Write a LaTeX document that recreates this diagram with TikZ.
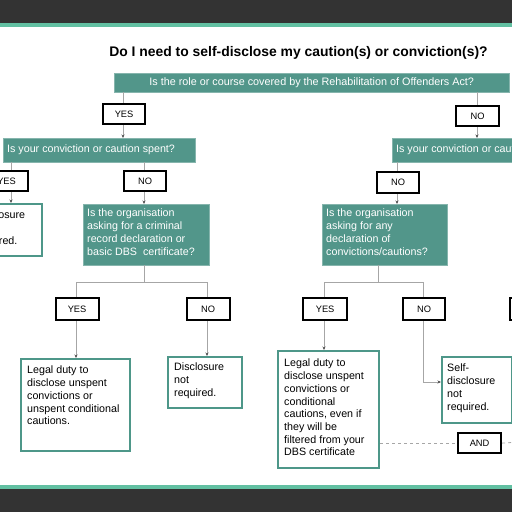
\documentclass[tikz,border=0pt]{standalone}
\usepackage{fontspec}
\setmainfont{Liberation Sans}
\usetikzlibrary{arrows.meta}
\definecolor{tealfill}{HTML}{52968A}
\definecolor{tealline}{HTML}{4E9789}
\definecolor{darkband}{HTML}{333333}
\definecolor{stripe}{HTML}{62C0A2}
\definecolor{connc}{HTML}{A6A6A6}
\definecolor{tipc}{HTML}{505050}
\begin{document}
\begin{tikzpicture}[x=1pt,y=-1pt,
 qbox/.style={fill=tealfill, draw=tealfill!70!white, line width=0.4pt, inner sep=0pt, anchor=north west},
 rbox/.style={fill=white, draw=tealline, line width=2.2pt, inner sep=0pt, anchor=north west},
 ansbox/.style={fill=white, draw=black, line width=2.2pt, inner sep=0pt, anchor=north west, font=\fontsize{9.3}{11}\selectfont},
 qtext/.style={text=white, font=\fontsize{10.7}{12.7}\selectfont, align=left, inner sep=0pt, anchor=north west},
 rtext/.style={text=black, font=\fontsize{10.7}{12.7}\selectfont, align=left, inner sep=0pt, anchor=north west},
 conn/.style={draw=connc, line width=0.8pt},
 arr/.style={conn, -{Stealth[length=3.5pt,width=3pt,color=tipc]}},
]
\useasboundingbox (0,0) rectangle (512,512);
\clip (0,0) rectangle (512,512);
% bands
\fill[darkband] (0,0) rectangle (512,23);
\fill[stripe] (0,23) rectangle (512,27);
\fill[stripe] (0,485) rectangle (512,489);
\fill[darkband] (0,489) rectangle (512,512);
% title
\node[font=\bfseries\fontsize{13.9}{16}\selectfont, inner sep=0pt] (title) at (298.5,53) {Do I need to self-disclose my caution(s) or conviction(s)?};
% top question
\node[qbox, minimum width=395pt, minimum height=19pt, text=white, font=\fontsize{10.8}{12}\selectfont] (top) at (114,73) {Is the role or course covered by the Rehabilitation of Offenders Act?};
\node[ansbox, minimum width=42pt, minimum height=20pt] (yes1) at (102,103) {YES};
\node[ansbox, minimum width=43pt, minimum height=20pt] (no1) at (455,105) {NO};
% second level
\node[qbox, minimum width=192pt, minimum height=24pt] (leftq) at (3,138) {};
\node[qtext, anchor=west] (leftqt) at (7,150) {Is your conviction or caution spent?};
\node[qbox, minimum width=140pt, minimum height=24pt] (rightq) at (392,138) {};
\node[qtext, anchor=west] (rightqt) at (396,150) {Is your conviction or caution spent?};
\node[ansbox, minimum width=43pt, minimum height=20pt] (yes2) at (-16,170) {YES};
\node[ansbox, minimum width=42pt, minimum height=20pt] (no2) at (123,170) {NO};
\node[ansbox, minimum width=42pt, minimum height=21pt] (no3) at (376,171) {NO};
% third level
\node[rbox, minimum width=73pt, minimum height=52pt] (discl0) at (-32,203) {};
\node[rtext] (discl0t) at (-25,211) {Disclosure\\not\\required.};
\node[qbox, minimum width=126pt, minimum height=61pt] (midl) at (83,204) {};
\node[qtext] (midlt) at (87,209) {Is the organisation\\asking for a criminal\\record declaration or\\basic DBS\ \ certificate?};
\node[qbox, minimum width=125pt, minimum height=61pt] (midr) at (322,204) {};
\node[qtext] (midrt) at (326,209) {Is the organisation\\asking for any\\declaration of\\convictions/cautions?};
% fourth level answers
\node[ansbox, minimum width=43pt, minimum height=22pt] (yes4) at (54.5,297) {YES};
\node[ansbox, minimum width=43pt, minimum height=22pt] (no4) at (185.5,297) {NO};
\node[ansbox, minimum width=44pt, minimum height=22pt] (yes5) at (302,297) {YES};
\node[ansbox, minimum width=42pt, minimum height=22pt] (no5) at (402,297) {NO};
\node[ansbox, minimum width=43pt, minimum height=22pt] (ans6) at (509,297) {};
% results
\node[rbox, minimum width=109pt, minimum height=92pt] (legall) at (20,358) {};
\node[rtext] (legallt) at (27,366) {Legal duty to\\disclose unspent\\convictions or\\unspent conditional\\cautions.};
\node[rbox, minimum width=74pt, minimum height=51pt] (discl) at (167,356) {};
\node[rtext] (disclt) at (174,363) {Disclosure\\not\\required.};
\node[rbox, minimum width=101pt, minimum height=117pt] (legalr) at (277,350) {};
\node[rtext] (legalrt) at (284,359) {Legal duty to\\disclose unspent\\convictions or\\conditional\\cautions, even if\\they will be\\filtered from your\\DBS certificate};
\node[rbox, minimum width=70pt, minimum height=66pt] (selfr) at (441,356) {};
\node[rtext] (selfrt) at (447,364) {Self-\\disclosure\\not\\required.};
\node[ansbox, minimum width=43pt, minimum height=20pt] (and) at (457,432) {AND};
% connectors
\coordinate (xa) at (123,0);
\coordinate (xb) at (477,0);
\coordinate (xc) at (11,0);
\coordinate (xd) at (144,0);
\coordinate (xe) at (397,0);
\coordinate (xf) at (76,0);
\coordinate (xg) at (207,0);
\coordinate (xh) at (378,0);
\coordinate (xi) at (324,0);
\coordinate (xj) at (423,0);
\coordinate (ya) at (0,282);
\coordinate (yb) at (0,382);
\coordinate (dashend) at (520,442);
\draw[conn] (xa |- top.south) -- (xa |- yes1.north);
\draw[arr] (xa |- yes1.south) -- (xa |- leftq.north);
\draw[conn] (xb |- top.south) -- (xb |- no1.north);
\draw[arr] (xb |- no1.south) -- (xb |- rightq.north);
\draw[conn] (xc |- leftq.south) -- (xc |- yes2.north);
\draw[arr] (xc |- yes2.south) -- (xc |- discl0.north);
\draw[conn] (xd |- leftq.south) -- (xd |- no2.north);
\draw[arr] (xd |- no2.south) -- (xd |- midl.north);
\draw[conn] (xe |- rightq.south) -- (xe |- no3.north);
\draw[arr] (xe |- no3.south) -- (xe |- midr.north);
\draw[conn] (xd |- midl.south) -- (xd |- ya);
\draw[conn] (xf |- yes4.north) -- (xf |- ya) -- (xg |- ya) -- (xg |- no4.north);
\draw[arr] (xf |- yes4.south) -- (xf |- legall.north);
\draw[arr] (xg |- no4.south) -- (xg |- discl.north);
\draw[conn] (xh |- midr.south) -- (xh |- ya);
\draw[conn] (xi |- yes5.north) -- (xi |- ya) -- (xj |- ya) -- (xj |- no5.north);
\draw[arr] (xi |- yes5.south) -- (xi |- legalr.north);
\draw[arr] (xj |- no5.south) -- (xj |- yb) -- (selfr.west |- yb);
\draw[conn, dash pattern=on 3pt off 3pt] (legalr.east |- and.west) -- (and.west);
\draw[conn, dash pattern=on 3pt off 3pt] (and.east) -- (dashend);
\end{tikzpicture}
\end{document}
